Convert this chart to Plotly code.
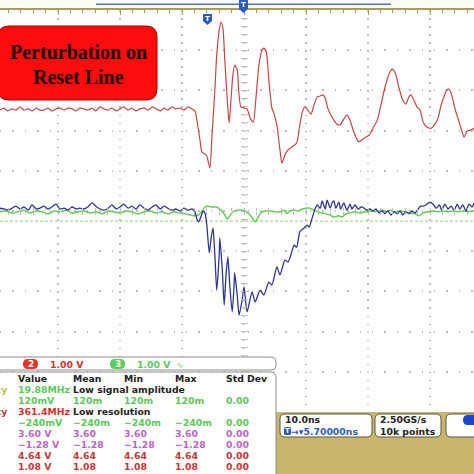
import plotly.graph_objects as go

# ---------------- data (time in ns, amplitude in divisions) ----------------
pre_t = [-39.4, -38.7, -38.1, -37.4, -36.8, -36.1, -35.5, -34.8, -34.2, -33.5,
         -32.9, -32.3, -31.6, -31.0, -30.3, -29.7, -29.0, -28.4, -27.7, -27.1,
         -26.5, -25.8, -25.2, -24.5, -23.9, -23.2, -22.6, -21.9, -21.3, -20.6,
         -20.0, -19.4, -18.7, -18.1, -17.4, -16.8, -16.1, -15.5, -14.8, -14.2,
         -13.5, -12.9, -12.3, -11.6, -11.0, -10.3, -9.7, -9.0, -8.4]

red_pre_v = [2.51, 2.56, 2.49, 2.54, 2.51, 2.59, 2.51, 2.54, 2.49, 2.56,
             2.51, 2.51, 2.56, 2.49, 2.54, 2.56, 2.51, 2.56, 2.54, 2.49,
             2.56, 2.54, 2.51, 2.56, 2.49, 2.59, 2.54, 2.51, 2.56, 2.49,
             2.54, 2.59, 2.51, 2.56, 2.49, 2.54, 2.56, 2.51, 2.59, 2.54,
             2.49, 2.56, 2.51, 2.59, 2.54, 2.56, 2.51, 2.59, 2.54]
red_evt_t = [-7.9, -7.6, -7.1, -6.8, -6.3, -6.0, -5.5, -5.2, -5.0, -4.7,
             -4.4, -4.0, -3.7, -3.4, -3.1, -2.7, -2.4, -2.1, -1.8, -1.5,
             -1.1, -0.8, -0.5, 0.0, 0.5, 1.0, 1.5, 1.9, 2.4, 2.9,
             3.2, 3.6, 4.0, 4.5, 4.8, 5.3, 5.8, 6.1, 6.6, 7.1,
             7.7, 8.5, 9.0, 9.4, 9.8, 10.3, 10.8, 11.3, 11.8, 12.3,
             12.7, 13.1, 13.5, 14.0, 14.5, 15.0, 15.5, 16.0, 16.6, 17.1,
             17.6, 18.1, 18.5, 19.0, 19.7, 20.2, 20.8, 21.5, 22.1, 22.7,
             23.4, 23.9, 24.4, 25.0, 25.6, 26.1, 26.6, 26.9, 27.4, 27.9,
             28.4, 28.9, 29.5, 30.2, 30.8, 31.3, 31.8, 32.3, 32.7, 33.1,
             33.5, 34.0, 34.5, 35.0, 35.5, 36.0, 36.5, 37.1]
red_evt_v = [2.49, 2.26, 1.77, 1.47, 1.42, 1.37, 1.07, 1.77, 2.26, 3.01,
             3.88, 4.50, 4.70, 4.55, 3.76, 2.76, 2.19, 2.76, 3.38, 3.63,
             3.51, 2.89, 2.59, 2.56, 2.54, 2.31, 2.21, 2.76, 3.63, 4.00,
             4.05, 3.96, 3.26, 2.56, 2.44, 2.14, 1.52, 1.19, 1.39, 1.52,
             1.59, 1.69, 2.14, 2.46, 2.59, 2.51, 2.41, 2.64, 2.84, 2.86,
             2.89, 2.81, 2.56, 2.39, 2.26, 2.16, 2.14, 2.26, 2.39, 2.26,
             2.01, 1.82, 1.72, 1.77, 1.84, 1.89, 2.06, 2.26, 2.64, 3.06,
             3.41, 3.53, 3.43, 3.06, 2.76, 2.66, 2.84, 2.89, 2.76, 2.59,
             2.51, 2.21, 2.09, 2.06, 2.16, 2.31, 2.64, 2.86, 3.01, 3.03,
             2.89, 2.56, 2.31, 2.06, 1.84, 1.99, 2.01, 2.06]

blue_pre_v = [0.07, 0.05, 0.02, 0.07, 0.12, 0.05, 0.10, 0.02, 0.15, 0.05,
              0.07, 0.12, 0.05, 0.10, 0.17, 0.05, 0.07, 0.02, 0.10, 0.05,
              0.07, 0.05, 0.10, 0.20, 0.12, 0.05, 0.02, 0.07, 0.15, 0.05,
              0.10, 0.17, 0.07, 0.12, 0.05, 0.15, 0.07, 0.02, 0.10, 0.15,
              0.05, 0.12, 0.07, 0.02, 0.05, 0.00, 0.07, 0.02, 0.05]
blue_evt_t = [-7.9, -7.6, -7.3, -6.9, -6.6, -6.3, -6.0, -5.6, -5.3, -5.0,
              -4.7, -4.4, -4.0, -3.9, -3.5, -3.2, -2.9, -2.6, -2.3, -1.9,
              -1.6, -1.5, -1.1, -0.8, -0.3, 0.0, 0.5, 1.3, 1.8, 2.6,
              3.2, 4.0, 4.5, 5.3, 5.8, 6.6, 7.1, 7.4, 8.1, 8.5,
              9.0, 9.7, 10.2, 10.5, 11.0, 11.5,
              11.8, 12.3, 12.6, 13.1, 13.4, 13.9, 14.2, 14.5, 14.8, 15.3,
              15.6, 16.1, 16.6, 17.1, 17.4, 17.9, 18.4, 18.9, 19.4, 19.8,
              20.3, 20.8, 21.3, 21.8, 22.3, 22.7, 23.2, 23.7, 24.2, 24.7,
              25.2, 25.6, 26.1, 26.6, 27.1, 27.6, 28.1, 28.5, 29.0, 29.5,
              30.0, 30.5, 31.0, 31.5, 31.9, 32.4, 32.9, 33.4, 33.9, 34.4,
              34.8, 35.3, 35.8, 36.3, 36.8, 37.1]
blue_evt_v = [-0.02, -0.20, -0.27, -0.12, 0.00, -0.05, -0.35, -1.04, -0.67, -0.42,
              -1.09, -1.97, -1.09, -0.67, -1.47, -2.34, -1.59, -1.14, -1.84, -2.51,
              -1.84, -1.54, -2.09, -2.59, -2.21, -1.89, -2.51, -2.01, -2.26, -1.97,
              -2.09, -1.77, -1.84, -1.39, -1.59, -1.22, -1.27, -1.17, -0.85, -0.90,
              -0.52, -0.42, -0.35, -0.40, -0.17, 0.07,
              0.15, 0.07, 0.25, 0.05, 0.27, 0.07, 0.20, 0.25, 0.07, 0.22,
              0.05, 0.20, 0.02, 0.17, 0.05, 0.15, 0.05, 0.10, 0.07, 0.02,
              0.05, 0.00, 0.05, -0.05, 0.02, -0.07, 0.00, -0.10, -0.02, -0.07,
              0.00, -0.10, -0.02, -0.07, 0.00, -0.05, 0.05, 0.12, 0.12, 0.17,
              0.22, 0.17, 0.07, 0.15, 0.02, 0.17, 0.05, 0.12, 0.02, 0.17,
              0.05, 0.15, 0.00, 0.17, 0.10, 0.20]

green_pre_t = [-39.4, -38.4, -37.4, -36.5, -35.5, -34.5, -33.5, -32.6, -31.6, -30.6,
               -29.7, -28.7, -27.7, -26.8, -25.8, -24.8, -23.9, -22.9, -21.9, -21.0,
               -20.0, -19.0, -18.1, -17.1, -16.1, -15.2, -14.2, -13.2, -12.3, -11.3,
               -10.3, -9.4]
green_pre_v = [-0.02, 0.00, -0.05, -0.02, 0.02, -0.05, 0.00, -0.02, -0.07, 0.00,
               -0.02, 0.02, -0.05, -0.02, 0.00, -0.05, -0.02, -0.07, 0.00, -0.02,
               -0.05, 0.00, -0.02, -0.07, -0.02, 0.00, -0.05, -0.02, -0.07, -0.02,
               -0.05, -0.07]
green_evt_t = [-8.7, -8.1, -7.4, -6.8, -6.3, -5.8, -5.2, -4.5, -3.9, -3.2,
               -2.7, -2.3, -1.8, -1.1, -0.5, 0.2, 0.8, 1.3, 1.8, 2.3,
               2.7, 3.4, 4.2, 5.0, 5.8, 6.5, 6.9, 7.4, 8.1, 8.7,
               9.4, 10.0, 10.6, 11.3, 11.9, 12.6, 13.2, 13.9, 14.5, 15.2,
               15.8, 16.5, 17.1, 17.9, 18.7, 19.5, 20.3, 21.1, 21.9, 22.7,
               23.5, 24.4, 25.2, 26.0, 26.8, 27.6, 28.2, 28.9, 29.7, 30.5,
               31.3, 32.1, 32.9, 33.7, 34.5, 35.3, 36.1, 37.1]
green_evt_v = [-0.10, -0.12, -0.10, -0.02, 0.10, 0.12, 0.10, 0.10, 0.05, -0.07,
               -0.20, -0.12, -0.02, 0.02, 0.02, 0.00, -0.07, -0.17, -0.27, -0.15,
               -0.05, 0.00, 0.00, -0.02, -0.02, 0.02, -0.07, 0.00, 0.02, 0.00,
               0.05, 0.07, 0.07, 0.02, -0.02, -0.05, -0.07, -0.10, -0.15, -0.12,
               -0.15, -0.07, -0.05, -0.02, -0.05, -0.02, 0.00, -0.02, 0.00, -0.02,
               0.02, -0.02, 0.00, -0.02, -0.05, -0.07, -0.12, -0.05, -0.02, 0.00,
               -0.02, 0.00, -0.02, 0.00, -0.02, 0.00, -0.02, 0.00]
green_ref_level = -0.25

red_t = pre_t + red_evt_t
red_v = red_pre_v + red_evt_v
blue_t = pre_t + blue_evt_t
blue_v = blue_pre_v + blue_evt_v
green_t = green_pre_t + green_evt_t
green_v = green_pre_v + green_evt_v

label_lines = ["Perturbation on", "Reset Line"]
ch_scales = ["1.00 V", "1.00 V"]
meas_header = ["Value", "Mean", "Min", "Max", "Std Dev"]
meas_rows = [
    ["Frequency", "19.88MHz", "Low signal amplitude", None, None, None],
    [None, "120mV", "120m", "120m", "120m", "0.00"],
    ["Frequency", "361.4MHz", "Low resolution", None, None, None],
    [None, "\u2212240mV", "\u2212240m", "\u2212240m", "\u2212240m", "0.00"],
    [None, "3.60 V", "3.60", "3.60", "3.60", "0.00"],
    [None, "\u22121.28 V", "\u22121.28", "\u22121.28", "\u22121.28", "0.00"],
    [None, "4.64 V", "4.64", "4.64", "4.64", "0.00"],
    [None, "1.08 V", "1.08", "1.08", "1.08", "0.00"],
]
horiz_scale = "10.0ns"
trig_pos = "\u2192\u25BE5.70000ns"
sample_rate = "2.50GS/s"
rec_len = "10k points"

# ---------------- styling / geometry ----------------
W = H = 474
GT, GB = 10, 412
CX, PXDIV_X = 244, 62.0
NS_PER_DIV = 10.0
x_range = [(0 - CX) / PXDIV_X * NS_PER_DIV, (W - CX) / PXDIV_X * NS_PER_DIV]

RED_TR, BLUE_TR, GREEN_TR = "#c44848", "#2e3596", "#5fcc4c"
GREEN_REF = "#a3e194"
OLIVE_BAND, OLIVE_LINE = "#c8b66d", "#a99b5e"
GRID = "#bdbdbd"
M_GREEN, M_RED, M_PURPLE, DARK = "#5cc85c", "#cc3434", "#c062cc", "#222222"
TBLUE = "#2f5cc0"
FONT = "DejaVu Sans"
PANEL_FS = 9.3


def X(px):
    return px / W


def Y(py):
    return (GB - py) / (GB - GT)


def rr(x0, y0, x1, y1, r):
    return (f"M{X(x0+r)},{Y(y0)} L{X(x1-r)},{Y(y0)} Q{X(x1)},{Y(y0)} {X(x1)},{Y(y0+r)} "
            f"L{X(x1)},{Y(y1-r)} Q{X(x1)},{Y(y1)} {X(x1-r)},{Y(y1)} "
            f"L{X(x0+r)},{Y(y1)} Q{X(x0)},{Y(y1)} {X(x0)},{Y(y1-r)} "
            f"L{X(x0)},{Y(y0+r)} Q{X(x0)},{Y(y0)} {X(x0+r)},{Y(y0)} Z")


def poly(pts):
    return "M" + " L".join(f"{X(a)},{Y(b)}" for a, b in pts) + " Z"


shapes = []
annos = []


def shp(path, fill, line="rgba(0,0,0,0)", lw=1):
    shapes.append(dict(type="path", xref="paper", yref="paper", path=path,
                       fillcolor=fill, line=dict(color=line, width=lw), layer="above"))


def txt(s, x, y, color, size=PANEL_FS, anchor="left", family=FONT, bold=True):
    if bold:
        s = "<b>" + s + "</b>"
    if anchor == "left":
        x -= 2
    elif anchor == "right":
        x += 2
    annos.append(dict(text=s, x=X(x), y=Y(y), xref="paper", yref="paper",
                      xanchor=anchor, yanchor="middle", showarrow=False,
                      font=dict(family=family, size=size, color=color)))


fig = go.Figure()
spl = dict(shape="spline", smoothing=0.6)
fig.add_trace(go.Scatter(x=green_t, y=green_v, mode="lines",
                         line=dict(color=GREEN_TR, width=1.4, **spl), hoverinfo="skip"))
fig.add_trace(go.Scatter(x=blue_t, y=blue_v, mode="lines",
                         line=dict(color=BLUE_TR, width=1.3, **spl), hoverinfo="skip"))
fig.add_trace(go.Scatter(x=red_t, y=red_v, mode="lines",
                         line=dict(color=RED_TR, width=1.2, **spl), hoverinfo="skip"))
# helper traces to activate centre-cross tick axes
fig.add_trace(go.Scatter(x=[None], y=[None], xaxis="x2", yaxis="y2", hoverinfo="skip"))
fig.add_trace(go.Scatter(x=[None], y=[None], xaxis="x3", yaxis="y3", hoverinfo="skip"))

# green reference level
shapes.append(dict(type="line", xref="paper", x0=0, x1=1, yref="y",
                   y0=green_ref_level, y1=green_ref_level,
                   line=dict(color=GREEN_REF, width=1.3, dash="3px,2px"), layer="below"))

# top strip: record view bar + trigger markers
shapes.append(dict(type="line", xref="paper", yref="paper", x0=X(96), x1=X(391),
                   y0=Y(4.3), y1=Y(4.3), line=dict(color="#5470b8", width=1.5), layer="above"))
shp(poly([(239, 0), (248, 0), (248, 9), (243.5, 13), (239, 9)]), "#2a5cc0")
txt("T", 243.5, 5, "white", size=7, anchor="center")
shp(poly([(203, 14), (212, 14), (212, 21), (207.5, 25), (203, 21)]), "#2a5cc0")
txt("T", 207.5, 19, "white", size=7, anchor="center")

# red label box
shp(rr(-2, 26, 157, 100, 11), "#fb0d0d", "#a00000", 1)
txt(label_lines[0], 78, 52, "#200202", size=20, anchor="center", family="Liberation Serif")
txt(label_lines[1], 78, 77, "#200202", size=20, anchor="center", family="Liberation Serif")

# bottom olive band + info boxes
shapes.append(dict(type="rect", xref="paper", yref="paper", x0=0, x1=1,
                   y0=Y(480), y1=Y(GB), fillcolor=OLIVE_BAND, line=dict(width=0), layer="above"))
shp(rr(280, 414, 372, 437, 5), "white", "#5a5548", 1)
shp(rr(375, 414, 441, 437, 5), "white", "#5a5548", 1)
shp(rr(446, 414, 490, 437, 5), "white", "#5a5548", 1)
shp(rr(463, 415, 484, 425, 5), "#1c44d0")
txt(horiz_scale, 285, 420, DARK)
shp(rr(284, 427, 291, 435, 1.5), TBLUE)
txt("T", 287.5, 431, "white", size=7, anchor="center")
txt(trig_pos, 291, 431, TBLUE)
txt(sample_rate, 380, 420, DARK)
txt(rec_len, 380, 431, DARK)

# measurement panel
shp(rr(-6, 372, 276, 484, 6), "white", "#8c8c8c", 1)
shp(rr(-6, 357, 276, 370, 5), "white", "#8c8c8c", 1)
shp(rr(23, 359, 38, 369, 5), "#e3332b")
txt("2", 30.5, 364, "white", size=9, anchor="center")
txt(ch_scales[0], 50, 364, M_RED)
shp(rr(110, 359, 125, 369, 5), "#58cf58")
txt("3", 117.5, 364, "white", size=9, anchor="center")
txt(ch_scales[1], 137, 364, M_GREEN)
txt("\u223F", 176, 364, "#9fdc9f")

col_x = [18, 73, 124, 175, 226]
row_y0, row_dy = 378, 11.05
for i, h in enumerate(meas_header):
    txt(h, col_x[i], row_y0, DARK)
row_colors = [M_GREEN, M_GREEN, M_RED, M_GREEN, M_PURPLE, M_PURPLE, M_RED, M_RED]
lead_colors = ["#b9c24a", None, M_RED, None, None, None, None, None]
for r, row in enumerate(meas_rows):
    y = row_y0 + row_dy * (r + 1)
    c = row_colors[r]
    if row[0]:
        txt(row[0], 7, y, lead_colors[r], anchor="right")
    if row[3] is None:
        txt(row[1], col_x[0], y, c)
        txt(row[2], col_x[1], y, DARK)
    else:
        for k in range(5):
            txt(row[k + 1], col_x[k], y, c)

common_hidden = dict(showticklabels=False, zeroline=False, showline=False, showgrid=False,
                     fixedrange=True)
fig.update_layout(
    width=W, height=H,
    margin=dict(l=0, r=0, t=GT, b=H - GB, pad=0, autoexpand=False),
    showlegend=False, plot_bgcolor="white", paper_bgcolor="#fcfcf7",
    xaxis=dict(range=x_range, side="top", showline=True, linecolor=OLIVE_LINE, linewidth=2,
               ticks="inside", ticklen=5, tickwidth=1, tickcolor=OLIVE_LINE, tick0=0, dtick=10,
               minor=dict(tick0=0, dtick=2, ticks="inside", ticklen=3, tickcolor=OLIVE_LINE,
                          showgrid=False),
               showgrid=True, gridcolor=GRID, gridwidth=1.5, griddash="1.5px,6.54px",
               zeroline=False, showticklabels=False, fixedrange=True, automargin=False),
    yaxis=dict(range=[-5, 5], showgrid=True, gridcolor=GRID, gridwidth=1.5,
               griddash="1.5px,10.9px", tick0=0, dtick=1, ticks="", zeroline=False,
               showticklabels=False, showline=False, fixedrange=True, automargin=False),
    xaxis2=dict(overlaying="x", anchor="free", position=0.5, range=x_range, ticks="outside",
                ticklen=3, tickcolor=GRID, tick0=0, dtick=2, side="bottom", **common_hidden),
    xaxis3=dict(overlaying="x", anchor="free", position=0.5, range=x_range, ticks="inside",
                ticklen=3, tickcolor=GRID, tick0=0, dtick=2, side="bottom", **common_hidden),
    yaxis2=dict(overlaying="y", anchor="free", position=CX / W, range=[-5, 5], ticks="outside",
                ticklen=3, tickcolor=GRID, tick0=0, dtick=0.2, side="left", **common_hidden),
    yaxis3=dict(overlaying="y", anchor="free", position=CX / W, range=[-5, 5], ticks="inside",
                ticklen=3, tickcolor=GRID, tick0=0, dtick=0.2, side="left", **common_hidden),
    shapes=shapes, annotations=annos,
)
fig.write_html("out.html", config={"displayModeBar": False},
               post_script="document.body.style.margin='0px';document.body.style.padding='0px';"
                           "document.documentElement.style.overflow='hidden';")
